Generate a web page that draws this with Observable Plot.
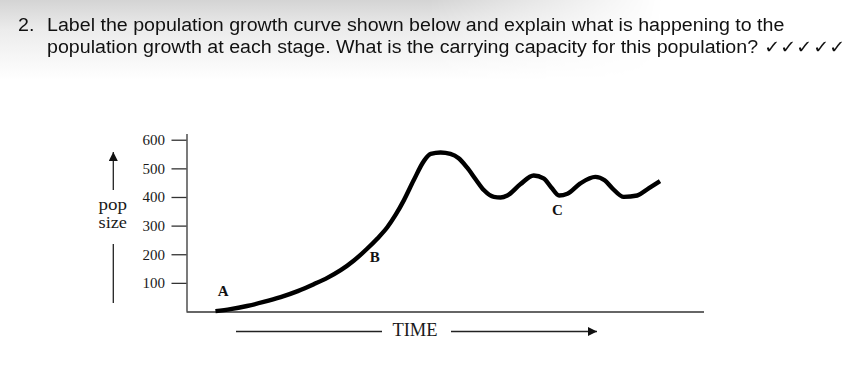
<!DOCTYPE html>
<html>
<head>
<meta charset="utf-8">
<script src="https://cdn.jsdelivr.net/npm/d3@7"></script>
<script src="https://cdn.jsdelivr.net/npm/@observablehq/plot@0.6"></script>
<style>
  html, body { margin: 0; padding: 0; background: #fff; }
  #page { position: relative; width: 865px; height: 375px; overflow: hidden; background: #fff; }
  #shade { position: absolute; left: 0; top: 0; width: 780px; height: 85px;
    background: linear-gradient(to bottom, #d4d4d4 0px, #ececec 30px, #ffffff 80px);
    -webkit-mask-image: linear-gradient(to right, #000 0%, #000 55%, transparent 85%);
    mask-image: linear-gradient(to right, #000 0%, #000 55%, transparent 85%); }
  #title { position: absolute; left: 18px; top: 14px; font-family: "Liberation Sans", Arial, sans-serif;
    font-size: 18px; line-height: 22px; color: #111; }
  #title .num { position: absolute; left: 0; transform: scaleX(1.09); transform-origin: 0 0; }
  #title .txt { position: absolute; left: 29px; white-space: nowrap; transform: scaleX(1.09); transform-origin: 0 0; }
  #chart { position: absolute; left: 0; top: 100px; }
  #deco { position: absolute; left: 0; top: 0; pointer-events: none; }
</style>
</head>
<body>
<div id="page">
  <div id="shade"></div>
  <div id="title">
    <span class="num">2.</span>
    <span class="txt">Label the population growth curve shown below and explain what is happening to the<br>population growth at each stage. What is the carrying capacity for this population? ✓✓✓✓✓</span>
  </div>
  <div id="chart"></div>
  <svg id="deco" width="865" height="375"></svg>
</div>
<script>
// ---- data ----
const time = [5.5, 8.4, 11.6, 14.8, 18.1, 21.4, 24.5, 27.2, 29.7, 32.2, 34.8, 36.8, 38.7, 40.3, 41.9, 43.8, 45.8, 47.1, 49.0, 50.9, 52.5, 54.1, 55.8, 57.4, 59.3, 60.6, 61.9, 64.4, 67.0, 68.9, 70.4, 71.9, 73.5, 76.0, 78.9, 80.7, 82.2, 84.4, 87.0, 89.2, 91.4];
const popSize = [3, 10, 21, 35, 52, 73, 97, 120, 146, 179, 221, 257, 296, 339, 390, 460, 528, 552, 557, 552, 537, 505, 463, 425, 402, 400, 407, 446, 477, 467, 435, 407, 413, 449, 472, 460, 432, 402, 407, 432, 457];
const stageLabels = ["A", "B", "C"];
const stageTime = [7.0, 36.3, 71.6];
const stagePop = [74, 190, 355];
const yTicks = [100, 200, 300, 400, 500, 600];

const curve = time.map((t, i) => ({t, v: popSize[i]}));
const stages = stageLabels.map((s, i) => ({s, t: stageTime[i], v: stagePop[i]}));

const chart = Plot.plot({
  width: 865,
  height: 260,
  marginLeft: 186.5,
  marginRight: 161,
  marginTop: 34,
  marginBottom: 48.5,
  style: {fontFamily: "'Liberation Serif', 'Times New Roman', serif", fontSize: "15px", background: "transparent", color: "#1a1a1a", overflow: "visible"},
  x: {domain: [0, 100], axis: null},
  y: {domain: [0, 620], axis: null},
  marks: [
    Plot.ruleY([0], {stroke: "#333", strokeWidth: 1.3}),
    Plot.ruleX([0], {stroke: "#333", strokeWidth: 1.3}),
    Plot.axisY({ticks: yTicks, tickSize: 15, tickPadding: 7, label: null, stroke: "#333", strokeWidth: 1.3, fontSize: 15, fill: "#1a1a1a"}),
    Plot.line(curve, {x: "t", y: "v", curve: "monotone-x", stroke: "#000", strokeWidth: 4.4, strokeLinecap: "butt", strokeLinejoin: "round"}),
    Plot.text(stages, {x: "t", y: "v", text: "s", fontWeight: "bold", fontSize: 15, fill: "#111"})
  ]
});
document.getElementById("chart").appendChild(chart);

// ---- decorations: axis captions with arrows ----
const deco = d3.select("#deco");
const defs = deco.append("defs");
defs.append("marker").attr("id", "ah").attr("viewBox", "0 0 10 10").attr("refX", 10).attr("refY", 5)
  .attr("markerWidth", 9).attr("markerHeight", 9).attr("markerUnits", "userSpaceOnUse").attr("orient", "auto")
  .append("path").attr("d", "M0,0 L10,5 L0,10 z").attr("fill", "#111");
const serif = "'Liberation Serif', 'Times New Roman', serif";
// TIME caption
deco.append("line").attr("x1", 236).attr("x2", 382).attr("y1", 331.5).attr("y2", 331.5).attr("stroke", "#222").attr("stroke-width", 1.3);
deco.append("line").attr("x1", 451).attr("x2", 597).attr("y1", 331.5).attr("y2", 331.5).attr("stroke", "#222").attr("stroke-width", 1.3).attr("marker-end", "url(#ah)");
deco.append("text").attr("x", 415).attr("y", 336).attr("text-anchor", "middle")
  .style("font-family", serif).style("font-size", "18.5px").attr("fill", "#1a1a1a").text("TIME");
// pop size caption
deco.append("line").attr("x1", 113.3).attr("x2", 113.3).attr("y1", 190).attr("y2", 152).attr("stroke", "#222").attr("stroke-width", 1.3).attr("marker-end", "url(#ah)");
deco.append("line").attr("x1", 113.3).attr("x2", 113.3).attr("y1", 244).attr("y2", 303).attr("stroke", "#222").attr("stroke-width", 1.3);
deco.append("text").attr("x", 98.5).attr("y", 209.5).attr("textLength", 28.5).attr("lengthAdjust", "spacingAndGlyphs")
  .style("font-family", serif).style("font-size", "16px").attr("fill", "#1a1a1a").text("pop");
deco.append("text").attr("x", 98.5).attr("y", 227.5).attr("textLength", 28.5).attr("lengthAdjust", "spacingAndGlyphs")
  .style("font-family", serif).style("font-size", "16px").attr("fill", "#1a1a1a").text("size");
</script>
</body>
</html>
